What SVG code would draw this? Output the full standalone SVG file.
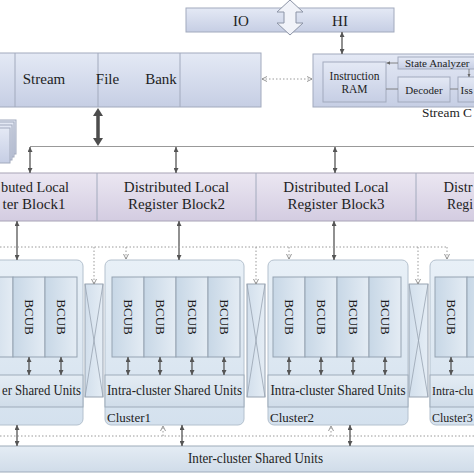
<svg xmlns="http://www.w3.org/2000/svg" width="474" height="474" viewBox="0 0 474 474">
<defs>
<linearGradient id="gTop" x1="0" y1="0" x2="0" y2="1"><stop offset="0" stop-color="#e4e9f5"/><stop offset="1" stop-color="#c6cee4"/></linearGradient>
<linearGradient id="gReg" x1="0" y1="0" x2="0" y2="1"><stop offset="0" stop-color="#ebe7f2"/><stop offset="1" stop-color="#d3cce1"/></linearGradient>
<linearGradient id="gClu" x1="0" y1="0" x2="0" y2="1"><stop offset="0" stop-color="#e8f0f7"/><stop offset="1" stop-color="#d4e1ee"/></linearGradient>
<linearGradient id="gCol" x1="0" y1="0" x2="1" y2="0"><stop offset="0" stop-color="#c7d7e6"/><stop offset="1" stop-color="#e4ecf4"/></linearGradient>
<linearGradient id="gIntra" x1="0" y1="0" x2="0" y2="1"><stop offset="0" stop-color="#e4ecf4"/><stop offset="1" stop-color="#d0dce9"/></linearGradient>
<linearGradient id="gSw" x1="0" y1="0" x2="1" y2="0"><stop offset="0" stop-color="#d2dfec"/><stop offset="1" stop-color="#e5edf5"/></linearGradient>
<marker id="ah" viewBox="0 0 8 8" refX="8" refY="4" markerWidth="5" markerHeight="5" markerUnits="userSpaceOnUse" orient="auto-start-reverse"><path d="M0,0 L8,4 L0,8 z" fill="#555"/></marker>
<marker id="ahs" viewBox="0 0 8 8" refX="8" refY="4" markerWidth="3.5" markerHeight="3.5" markerUnits="userSpaceOnUse" orient="auto-start-reverse"><path d="M0,0 L8,4 L0,8 z" fill="#666"/></marker>
<marker id="ahb" viewBox="0 0 8 10" refX="0" refY="5" markerWidth="8" markerHeight="11" markerUnits="userSpaceOnUse" orient="auto-start-reverse"><path d="M0,0 L8,5 L0,10 z" fill="#4d4d4d"/></marker>
<marker id="oh" viewBox="0 0 8 8" refX="7" refY="4" markerWidth="6" markerHeight="6" markerUnits="userSpaceOnUse" orient="auto-start-reverse"><path d="M0,0.5 L7,4 L0,7.5" fill="none" stroke="#8a8a8a" stroke-width="1.2"/></marker>
</defs>
<style>
.box{fill:url(#gTop);stroke:#a2aabd;stroke-width:1}
.reg{fill:url(#gReg);stroke:#a8a3b6;stroke-width:1}
.clu{fill:url(#gClu);stroke:#b4c1ce;stroke-width:1}
.col{fill:url(#gCol);stroke:#95a3b2;stroke-width:1}
.intra{fill:url(#gIntra);stroke:#9eabba;stroke-width:1}
.sw{fill:url(#gSw);stroke:#98a3b1;stroke-width:1}
.xl{stroke:#98a3b1;stroke-width:0.8;fill:none}
.div{stroke:#a2aabd;stroke-width:1;fill:none}
.t{font-family:"Liberation Serif","Times New Roman",serif;fill:#1e1e1e}
.arr{stroke:#555;stroke-width:1.3;fill:none;marker-start:url(#ah);marker-end:url(#ah)}
.thick{stroke:#4d4d4d;stroke-width:3.5;fill:none;marker-start:url(#ahb);marker-end:url(#ahb)}
.line{stroke:#999;stroke-width:1;fill:none}
.dot{stroke:#9a9a9a;stroke-width:1;stroke-dasharray:1.5 2;fill:none}
.doth{stroke:#9a9a9a;stroke-width:1;stroke-dasharray:1.5 2;fill:none;marker-end:url(#oh)}
.dot2{stroke:#9a9a9a;stroke-width:1;stroke-dasharray:1.5 2;fill:none;marker-start:url(#oh);marker-end:url(#oh)}
.sml{stroke:#777;stroke-width:0.9;fill:none}
</style>

<!-- IO / HI -->
<g id="io-hi">
<rect class="box" x="186" y="8" width="208" height="24"/>
<text class="t" x="241" y="26" font-size="15" text-anchor="middle">IO</text>
<text class="t" x="340" y="26" font-size="15" text-anchor="middle">HI</text>
<polygon points="290,0 303,12 296,12 296,23 303,23 290,35 277,23 284,23 284,12 277,12" fill="#f1f3f9" stroke="#8c94a6" stroke-width="1"/>
</g>

<!-- stacked pages icon -->
<g id="pages">
<rect class="box" x="-10" y="120" width="26" height="34"/>
<rect class="box" x="-12" y="122" width="26" height="35"/>
<rect class="box" x="-14" y="125" width="26" height="35"/>
<rect class="box" x="-16" y="128" width="26" height="35"/>
</g>

<!-- Stream File Bank -->
<g id="stream-file-bank">
<rect class="box" x="-5" y="53" width="266" height="54"/>
<path class="div" d="M15,53V107M98,53V107M180,53V107"/>
<text class="t" x="44" y="84" font-size="15" text-anchor="middle">Stream</text>
<text class="t" x="107.5" y="84" font-size="15" text-anchor="middle">File</text>
<text class="t" x="161" y="84" font-size="15" text-anchor="middle">Bank</text>
</g>

<!-- Stream Controller -->
<g id="stream-controller">
<rect class="box" x="313" y="54" width="170" height="53"/>
<text class="t" x="422" y="117" font-size="13.5" textLength="50" lengthAdjust="spacingAndGlyphs">Stream C</text>
<g id="instruction-ram">
<rect class="box" x="323" y="62" width="63" height="40"/>
<text class="t" x="354.5" y="79.5" font-size="11.5" text-anchor="middle">Instruction</text>
<text class="t" x="354.5" y="93" font-size="11.5" text-anchor="middle">RAM</text>
</g>
<g id="state-analyzer">
<rect class="box" x="398" y="57" width="85" height="12"/>
<text class="t" x="405" y="66.5" font-size="11">State Analyzer</text>
</g>
<g id="decoder">
<rect class="box" x="398" y="77" width="52" height="25"/>
<text class="t" x="424" y="93.5" font-size="11" text-anchor="middle">Decoder</text>
</g>
<g id="issue">
<rect class="box" x="458" y="77" width="25" height="25"/>
<text class="t" x="460.5" y="93.5" font-size="11">Iss</text>
</g>
</g>

<!-- Distributed Local Register Blocks -->
<g id="dlrb">
<rect class="reg" x="-5" y="173" width="485" height="48"/>
<path class="div" d="M97,173V221M256,173V221M416,173V221" stroke="#a8a3b6"/>
<g id="dlrb1">
<text class="t" x="1" y="192" font-size="15" textLength="68" lengthAdjust="spacingAndGlyphs">buted Local</text>
<text class="t" x="2.5" y="209" font-size="15" textLength="63" lengthAdjust="spacingAndGlyphs">ter Block1</text>
</g>
<g id="dlrb2">
<text class="t" x="176.5" y="192" font-size="15" text-anchor="middle">Distributed Local</text>
<text class="t" x="176.5" y="209" font-size="15" text-anchor="middle">Register Block2</text>
</g>
<g id="dlrb3">
<text class="t" x="336" y="192" font-size="15" text-anchor="middle">Distributed Local</text>
<text class="t" x="336" y="209" font-size="15" text-anchor="middle">Register Block3</text>
</g>
<g id="dlrb4">
<text class="t" x="443.5" y="192" font-size="15" textLength="29" lengthAdjust="spacingAndGlyphs">Distr</text>
<text class="t" x="447" y="209" font-size="15" textLength="26" lengthAdjust="spacingAndGlyphs">Regi</text>
</g>
</g>

<!-- Crossbar switches -->
<g id="switch1">
<rect class="sw" x="85" y="284" width="18" height="113"/>
<path class="xl" d="M85,284L103,397M103,284L85,397"/>
</g>
<g id="switch2">
<rect class="sw" x="247" y="284" width="18" height="113"/>
<path class="xl" d="M247,284L265,397M265,284L247,397"/>
</g>
<g id="switch3">
<rect class="sw" x="409" y="284" width="19" height="113"/>
<path class="xl" d="M409,284L428,397M428,284L409,397"/>
</g>

<!-- Cluster 0 -->
<g id="cluster0">
<rect class="clu" x="-58" y="260" width="141" height="165" rx="6"/>
<rect class="col" x="-51" y="277" width="32" height="80"/>
<rect class="col" x="-19" y="277" width="32" height="80"/>
<rect class="col" x="13" y="277" width="32" height="80"/>
<rect class="col" x="45" y="277" width="32" height="80"/>
<text class="t" font-size="13" text-anchor="middle" transform="translate(29,317) rotate(90)" y="4.5">BCUB</text>
<text class="t" font-size="13" text-anchor="middle" transform="translate(61,317) rotate(90)" y="4.5">BCUB</text>
<rect class="intra" x="-58" y="375" width="141" height="32"/>
<text class="t" x="2" y="395" font-size="14" textLength="79" lengthAdjust="spacingAndGlyphs">er Shared Units</text>
</g>

<!-- Cluster 1 -->
<g id="cluster1">
<rect class="clu" x="105" y="260" width="139" height="165" rx="6"/>
<rect class="col" x="112" y="277" width="32" height="80"/>
<rect class="col" x="144" y="277" width="32" height="80"/>
<rect class="col" x="176" y="277" width="32" height="80"/>
<rect class="col" x="208" y="277" width="32" height="80"/>
<text class="t" font-size="13" text-anchor="middle" transform="translate(128,317) rotate(90)" y="4.5">BCUB</text>
<text class="t" font-size="13" text-anchor="middle" transform="translate(160,317) rotate(90)" y="4.5">BCUB</text>
<text class="t" font-size="13" text-anchor="middle" transform="translate(192,317) rotate(90)" y="4.5">BCUB</text>
<text class="t" font-size="13" text-anchor="middle" transform="translate(224,317) rotate(90)" y="4.5">BCUB</text>
<rect class="intra" x="105" y="375" width="139" height="32"/>
<text class="t" x="174.5" y="395" font-size="14" text-anchor="middle" textLength="135" lengthAdjust="spacingAndGlyphs">Intra-cluster Shared Units</text>
<text class="t" x="107" y="422" font-size="13">Cluster1</text>
</g>

<!-- Cluster 2 -->
<g id="cluster2">
<rect class="clu" x="268" y="260" width="140" height="165" rx="6"/>
<rect class="col" x="273" y="277" width="32" height="80"/>
<rect class="col" x="305" y="277" width="32" height="80"/>
<rect class="col" x="337" y="277" width="32" height="80"/>
<rect class="col" x="369" y="277" width="32" height="80"/>
<text class="t" font-size="13" text-anchor="middle" transform="translate(289,317) rotate(90)" y="4.5">BCUB</text>
<text class="t" font-size="13" text-anchor="middle" transform="translate(321,317) rotate(90)" y="4.5">BCUB</text>
<text class="t" font-size="13" text-anchor="middle" transform="translate(353,317) rotate(90)" y="4.5">BCUB</text>
<text class="t" font-size="13" text-anchor="middle" transform="translate(385,317) rotate(90)" y="4.5">BCUB</text>
<rect class="intra" x="268" y="375" width="140" height="32"/>
<text class="t" x="338" y="395" font-size="14" text-anchor="middle" textLength="135" lengthAdjust="spacingAndGlyphs">Intra-cluster Shared Units</text>
<text class="t" x="270" y="422" font-size="13">Cluster2</text>
</g>

<!-- Cluster 3 -->
<g id="cluster3">
<rect class="clu" x="430" y="260" width="140" height="165" rx="6"/>
<rect class="col" x="435" y="277" width="32" height="80"/>
<rect class="col" x="467" y="277" width="32" height="80"/>
<text class="t" font-size="13" text-anchor="middle" transform="translate(451,317) rotate(90)" y="4.5">BCUB</text>
<rect class="intra" x="430" y="375" width="140" height="32"/>
<text class="t" x="432" y="395" font-size="12">Intra-clu</text>
<text class="t" x="432" y="422" font-size="12">Cluster3</text>
</g>

<!-- Inter-cluster Shared Units -->
<g id="inter-cluster">
<rect class="intra" x="-5" y="446" width="485" height="26"/>
<text class="t" x="255.5" y="463" font-size="14" text-anchor="middle" textLength="135" lengthAdjust="spacingAndGlyphs">Inter-cluster Shared Units</text>
</g>

<!-- Connectors -->
<g id="connectors">
<path class="line" d="M30,146.5H474"/>
<path class="thick" d="M98,116V138"/>
<path class="arr" d="M30,147V173"/>
<path class="arr" d="M176,147V173"/>
<path class="arr" d="M335,147V173"/>
<path class="arr" d="M342,32V54"/>
<path class="dot2" d="M262,79H312"/>
<path class="sml" d="M386,89H398M450,89H458"/>
<path class="sml" d="M398,63H386.5" marker-end="url(#ahs)"/>
<path class="sml" d="M469,69V77" marker-end="url(#ahs)"/>
<path class="arr" d="M17,221V260"/>
<path class="arr" d="M179,221V260"/>
<path class="arr" d="M334,221V260"/>
<path class="dot" d="M0,247H447"/>
<path class="doth" d="M94,247V284"/>
<path class="doth" d="M126,247V259"/>
<path class="doth" d="M256,247V284"/>
<path class="doth" d="M289,247V259"/>
<path class="doth" d="M418,247V284"/>
<path class="doth" d="M447,247V259"/>
<path class="arr" d="M29,357V375"/>
<path class="arr" d="M61,357V375"/>
<path class="arr" d="M128,357V375"/>
<path class="arr" d="M160,357V375"/>
<path class="arr" d="M192,357V375"/>
<path class="arr" d="M224,357V375"/>
<path class="arr" d="M289,357V375"/>
<path class="arr" d="M321,357V375"/>
<path class="arr" d="M353,357V375"/>
<path class="arr" d="M385,357V375"/>
<path class="arr" d="M451,357V375"/>
<path class="dot" d="M0,436H474"/>
<path class="doth" d="M163,436V426"/>
<path class="doth" d="M331,436V426"/>
<path class="arr" d="M17,425V446"/>
<path class="arr" d="M182,425V446"/>
<path class="arr" d="M350,425V446"/>
</g>
</svg>
